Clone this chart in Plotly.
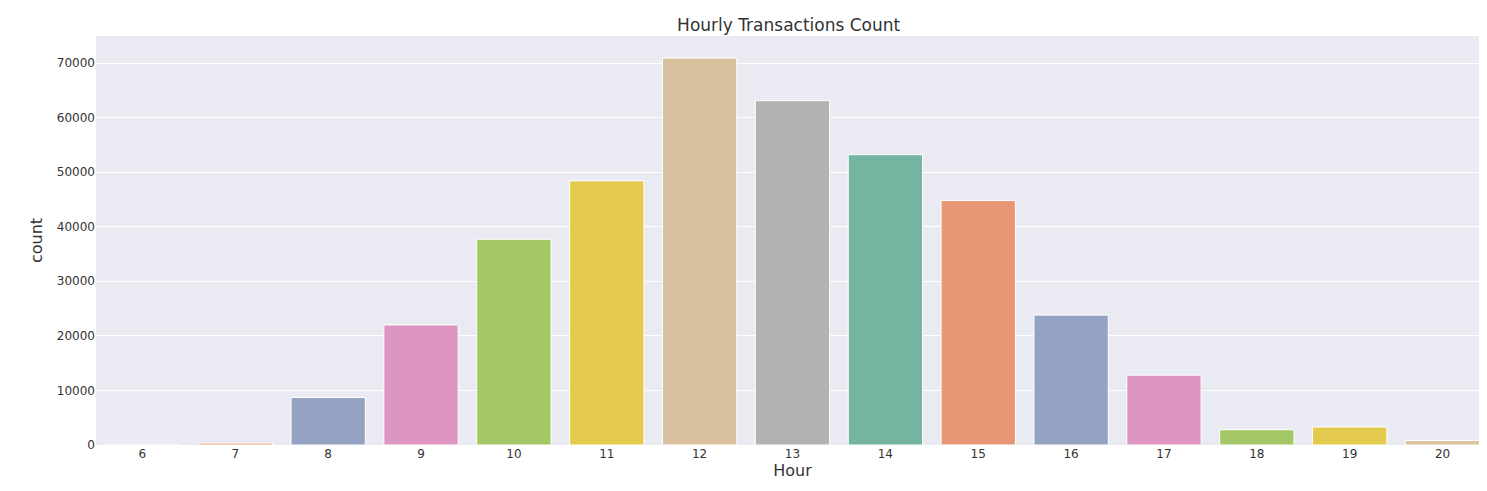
import plotly.graph_objects as go

hours = ["6","7","8","9","10","11","12","13","14","15","16","17","18","19","20"]
counts = [30, 350, 8700, 22000, 37700, 48400, 70900, 63100, 53200, 44800, 23800, 12800, 2800, 3300, 800]
palette = ["#74b4a0", "#e79774", "#95a3c3", "#dc96c1", "#a3c765", "#e3c94c", "#d9c19f", "#b2b2b2"]
colors = [palette[i % 8] for i in range(len(hours))]

fig = go.Figure(go.Bar(x=hours, y=counts, marker=dict(color=colors, line=dict(color="white", width=1)), width=0.8))
fig.update_layout(
    width=1487, height=491,
    margin=dict(l=88, r=6, t=28, b=54, autoexpand=False),
    paper_bgcolor="white", plot_bgcolor="#eaeaf2",
    font=dict(family="DejaVu Sans", size=13, color="#333"),
    title=dict(text="Hourly Transactions Count", x=0.525, xanchor="center", y=0.965, yanchor="middle", font=dict(size=17)),
    showlegend=False, bargap=0.2,
)
fig.update_xaxes(title=dict(text="Hour", standoff=2), showgrid=False, ticks="", type="category", automargin=False, tickfont=dict(size=12))
fig.update_yaxes(title=dict(text="count", standoff=10), range=[0, 74950], dtick=10000, tickformat="d", gridcolor="white", gridwidth=1, zeroline=False, ticks="", automargin=False, tickfont=dict(size=12))
fig.write_html("out.html")
